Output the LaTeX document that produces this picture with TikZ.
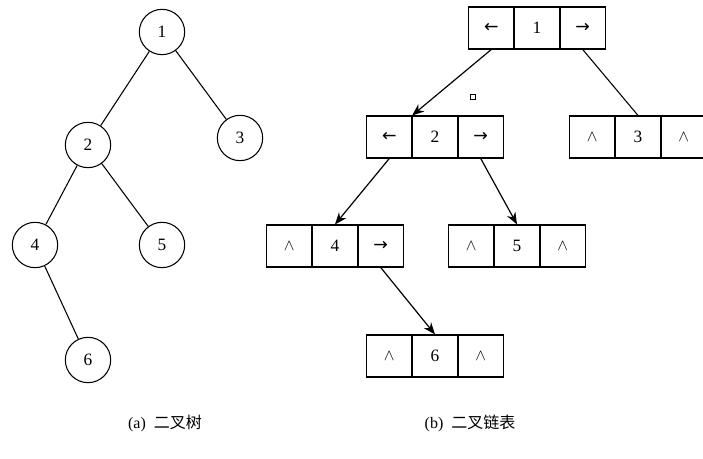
\documentclass[tikz,border=0pt]{standalone}
\usepackage{fontspec}
\setmainfont{Liberation Serif}
\newfontfamily\cjk{Noto Sans CJK SC}
\newfontfamily\symf{DejaVu Sans}
\usetikzlibrary{arrows.meta}
\begin{document}
\begin{tikzpicture}[x=0.75pt,y=-0.75pt,
  circ/.style={circle,draw,line width=0.8pt,minimum size=34pt,inner sep=0pt,font=\fontsize{13}{13}\selectfont},
  cell/.style={rectangle,draw,line width=0.8pt,minimum width=33.5pt,minimum height=31.5pt,inner sep=0pt,font=\fontsize{13}{13}\selectfont},
  edge/.style={line width=0.8pt},
  arr/.style={line width=0.9pt,-{Stealth[length=9pt,width=7pt]}},
  captxt/.style={font=\fontsize{12}{12}\selectfont}]
\useasboundingbox (0,0) rectangle (703,459);
% tree
\node[circ] (n1) at (162,32) {1};
\node[circ] (n2) at (88,145) {2};
\node[circ] (n3) at (240,138) {3};
\node[circ] (n4) at (35,245) {4};
\node[circ] (n5) at (162,245) {5};
\node[circ] (n6) at (88,360) {6};
\draw[edge] (n1)--(n2); \draw[edge] (n1)--(n3);
\draw[edge] (n2)--(n4); \draw[edge] (n2)--(n5);
\draw[edge] (n4)--(n6);
% linked list
\newcommand{\lbox}[6]{%
  \node[cell] (#1m) at (#2,#3) {#5};
  \node[cell,anchor=east] (#1l) at (#1m.west) {#4};
  \node[cell,anchor=west] (#1r) at (#1m.east) {#6};}
\def\L{{\symf ←}}\def\R{{\symf →}}\def\N{$\wedge$}
\lbox{b1}{537}{28}{\L}{1}{\R}
\lbox{b2}{435}{137}{\L}{2}{\R}
\lbox{b3}{638}{137}{\N}{3}{\N}
\lbox{b4}{335}{246}{\N}{4}{\R}
\lbox{b5}{517}{246}{\N}{5}{\N}
\lbox{b6}{435}{356}{\N}{6}{\N}
\draw[arr] (b1l.south) -- (b2m.north west);
\draw[edge] (b1r.south) -- (b3m.north);
\draw[arr] (b2l.south) -- (b4m.north);
\draw[arr] (b2r.south) -- (b5m.north);
\draw[arr] (b4r.south) -- (b6m.north);
\node[draw,line width=0.6pt,minimum size=4pt,inner sep=0pt] (sq) at (473,97) {};
\node[captxt] (ca) at (165,423) {(a)\ \ {\cjk 二叉树}};
\node[captxt] (cb) at (470,423) {(b)\ \ {\cjk 二叉链表}};
\end{tikzpicture}
\end{document}
